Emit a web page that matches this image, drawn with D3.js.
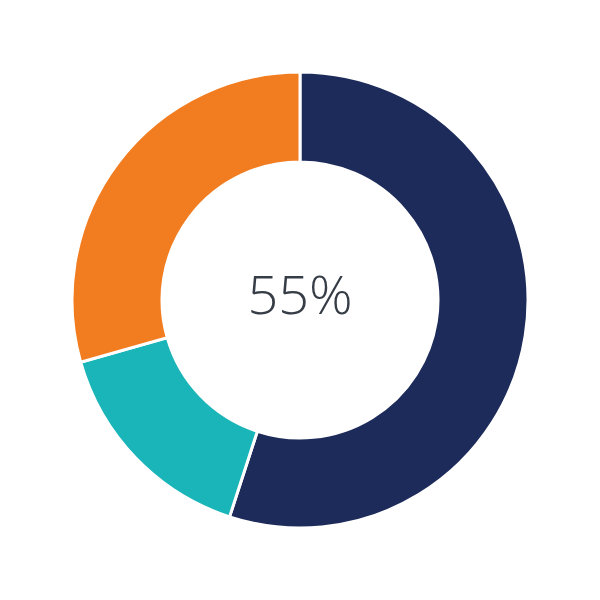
<!DOCTYPE html>
<html>
<head>
<meta charset="utf-8">
<script src="https://cdn.jsdelivr.net/npm/d3@7"></script>
<style>
  body { margin: 0; background: #fff; }
</style>
</head>
<body>
<svg id="canvas"></svg>
<script>
let labels = ['Navy', 'Teal', 'Orange']
let values = [55, 15.6, 29.4]
let colors = ['#1d2b5a', '#1ab5b8', '#f27d21']
let centerLabel = '55%'

const width = 600
const height = 600
const outer = 228
const inner = 138

let svg = d3.select('#canvas')
    .attr('width', width)
    .attr('height', height)

let g = svg.append('g')
    .attr('transform', 'translate(300,300)')

let pie = d3.pie().sort(null)
let arc = d3.arc().innerRadius(inner).outerRadius(outer)

let color = d3.scaleOrdinal().domain(labels).range(colors)

g.selectAll('path')
    .data(pie(values))
    .enter()
    .append('path')
    .attr('d', arc)
    .attr('fill', (d, i) => color(labels[i]))
    .attr('stroke', '#fff')
    .attr('stroke-width', 3)

g.append('text')
    .attr('text-anchor', 'middle')
    .attr('y', -5)
    .attr('dy', '0.35em')
    .attr('font-family', 'Open Sans')
    .attr('font-weight', 300)
    .attr('font-size', 54)
    .attr('fill', '#363d47')
    .text(centerLabel)
</script>
</body>
</html>
